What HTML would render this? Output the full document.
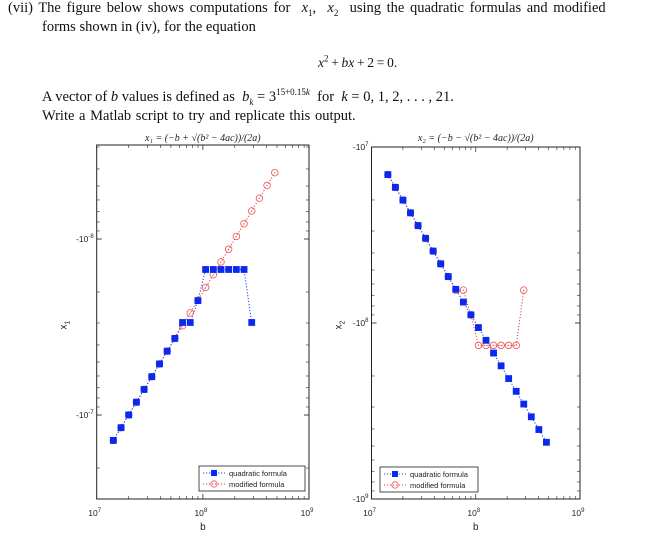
<!DOCTYPE html>
<html><head><meta charset="utf-8">
<style>
body{margin:0;background:#fff;width:648px;height:538px;overflow:hidden;position:relative;font-family:"Liberation Serif",serif;}
.t{position:absolute;font-size:14.5px;color:#111;white-space:nowrap;line-height:17px;}
.t sup,.t sub{line-height:0;}
i{font-style:italic}
svg{position:absolute;left:0;top:0}
</style></head><body>
<div class="t" style="left:8px;top:0px;word-spacing:2px">(vii) The figure below shows computations for &nbsp;<i>x</i><sub style="font-size:9px">1</sub>, &nbsp;<i>x</i><sub style="font-size:9px">2</sub>&nbsp; using the quadratic formulas and modified</div>
<div class="t" style="left:42px;top:19px">forms shown in (iv), for the equation</div>
<div class="t" style="left:318px;top:54px;font-size:13.5px"><i>x</i><sup style="font-size:9px">2</sup>&#8201;+&#8201;<i>bx</i>&#8201;+&#8201;2&#8201;=&#8201;0.</div>
<div class="t" style="left:42px;top:89px">A vector of <i>b</i> values is defined as &nbsp;<i>b<sub style="font-size:9px">k</sub></i> = 3<sup style="font-size:9px">15+0.15<i>k</i></sup>&nbsp; for &nbsp;<i>k</i> = 0, 1, 2, . . . , 21.</div>
<div class="t" style="left:42px;top:108px;word-spacing:1px">Write a Matlab script to try and replicate this output.</div>
<svg id="chart" width="648" height="538"></svg>
<script>
const bVals=[1.435e7,1.695e7,2.003e7,2.366e7,2.796e7,3.303e7,3.903e7,4.611e7,5.448e7,6.437e7,7.605e7,8.985e7,1.0616e8,1.2542e8,1.4818e8,1.7507e8,2.0685e8,2.4438e8,2.8873e8,3.4113e8,4.0304e8,4.7618e8];
const x1Quad=[-1.394e-7,-1.180e-7,-9.985e-8,-8.453e-8,-7.153e-8,-6.055e-8,-5.124e-8,-4.337e-8,-3.671e-8,-2.98e-8,-2.98e-8,-2.24e-8,-1.49e-8,-1.49e-8,-1.49e-8,-1.49e-8,-1.49e-8,-1.49e-8,-2.98e-8];
const x1Mod=[-1.394e-7,-1.180e-7,-9.985e-8,-8.453e-8,-7.153e-8,-6.055e-8,-5.124e-8,-4.337e-8,-3.671e-8,-3.107e-8,-2.630e-8,-2.226e-8,-1.884e-8,-1.595e-8,-1.350e-8,-1.142e-8,-9.669e-9,-8.184e-9,-6.927e-9,-5.863e-9,-4.962e-9,-4.200e-9];
const x2Quad=[-1.435e7,-1.695e7,-2.003e7,-2.366e7,-2.796e7,-3.303e7,-3.903e7,-4.611e7,-5.448e7,-6.437e7,-7.605e7,-8.985e7,-1.0616e8,-1.2542e8,-1.4818e8,-1.7507e8,-2.0685e8,-2.4438e8,-2.8873e8,-3.4113e8,-4.0304e8,-4.7618e8];
const x2Mod=[-1.435e7,-1.695e7,-2.003e7,-2.366e7,-2.796e7,-3.303e7,-3.903e7,-4.611e7,-5.448e7,-6.5e7,-6.5e7,-8.985e7,-1.34e8,-1.34e8,-1.34e8,-1.34e8,-1.34e8,-1.34e8,-6.5e7];
const NS='http://www.w3.org/2000/svg';
const svg=document.getElementById('chart');
function el(tag,attrs,parent,text){const e=document.createElementNS(NS,tag);for(const k in attrs)e.setAttribute(k,attrs[k]);if(text!==undefined)e.textContent=text;(parent||svg).appendChild(e);return e;}
const L=Math.log10;
function plot(cfg){
  const g=el('g',{});
  
  
  const xs=v=>cfg.x0+(L(v)-7)*(cfg.x1-cfg.x0)/2;
  const ys=v=>cfg.ytop+(L(Math.abs(v))-cfg.ylogTop)*(cfg.ybot-cfg.ytop)/(cfg.ylogBot-cfg.ylogTop);
  for(let d=7;d<9;d++)for(let m=1;m<=10;m++){const v=m*Math.pow(10,d);const x=xs(v);const len=(m==1||m==10)?5:3;
    el('line',{x1:x,y1:cfg.ybot,x2:x,y2:cfg.ybot-len,stroke:'#222','stroke-width':0.6},g);
    el('line',{x1:x,y1:cfg.ytop,x2:x,y2:cfg.ytop+len,stroke:'#222','stroke-width':0.6},g);}
  for(let d=Math.floor(cfg.ylogTop);d<Math.ceil(cfg.ylogBot);d++)for(let m=1;m<=10;m++){const lv=L(m*Math.pow(10,d));if(lv<cfg.ylogTop-1e-6||lv>cfg.ylogBot+1e-6)continue;const y=ys(m*Math.pow(10,d));const len=(m==1||m==10)?5:3;
    el('line',{x1:cfg.x0,y1:y,x2:cfg.x0+len,y2:y,stroke:'#222','stroke-width':0.6},g);
    el('line',{x1:cfg.x1,y1:y,x2:cfg.x1-len,y2:y,stroke:'#222','stroke-width':0.6},g);}
  const box=el('rect',{x:cfg.x0,y:cfg.ytop,width:cfg.x1-cfg.x0,height:cfg.ybot-cfg.ytop,fill:'none',stroke:'#222','stroke-width':1},g);
  
  [7,8,9].forEach(d=>{const t=el('text',{x:xs(Math.pow(10,d))-2,y:cfg.ybot+17,'font-family':'Liberation Sans, sans-serif','font-size':8.5,'text-anchor':'middle',fill:'#222'},g);
    
    el('tspan',{},t,'10');el('tspan',{dy:-4,'font-size':6},t,String(d));});
  cfg.yTicks.forEach(d=>{const t=el('text',{x:cfg.x0-3,y:ys(Math.pow(10,d))+3,'font-family':'Liberation Sans, sans-serif','font-size':8.5,'text-anchor':'end',fill:'#222'},g);
    
    el('tspan',{},t,'-10');el('tspan',{dy:-4,'font-size':6},t,String(d));});
  const xl=el('text',{x:(cfg.x0+cfg.x1)/2,y:530,'font-family':'Liberation Sans, sans-serif','font-size':10,'text-anchor':'middle',fill:'#222'},g,'b');
  
  const yl=el('text',{x:0,y:0,transform:`translate(${cfg.x0-30},325) rotate(-90)`,'font-family':'Liberation Sans, sans-serif','font-size':10,'text-anchor':'middle',fill:'#222'},g);
  
  el('tspan',{},yl,'x');el('tspan',{dy:3,'font-size':7},yl,cfg.sub);
  const ti=el('text',{x:(cfg.x0+cfg.x1)/2,y:141,'font-family':'Liberation Serif, serif','font-style':'italic','font-size':10,'text-anchor':'middle',fill:'#222'},g,cfg.title);
  
  const lineOf=(arr,col)=>{const p=arr.map((v,i)=>xs(bVals[i]).toFixed(1)+','+ys(v).toFixed(1)).join(' ');return el('polyline',{points:p,fill:'none',stroke:col,'stroke-width':1,'stroke-dasharray':'1.2,1.8'},g);};
  const lm=lineOf(cfg.mod,'#e8413c');
  const lq=lineOf(cfg.quad,'#1f3cf0');
  cfg.mod.forEach((v,i)=>{const c=el('circle',{cx:xs(bVals[i]),cy:ys(v),r:3.3,fill:'none',stroke:'#ee5050','stroke-width':0.8},g);
    
    el('circle',{cx:xs(bVals[i]),cy:ys(v),r:0.5,fill:'#ee5050'},g);});
  cfg.quad.forEach((v,i)=>{const r=el('rect',{x:xs(bVals[i])-3.4,y:ys(v)-3.4,width:6.8,height:6.8,fill:'#0a28f0'},g);
    });
  const lx=cfg.lx,ly=cfg.ly;
  const lg=el('g',{},g);
  el('rect',{x:lx,y:ly,width:cfg.lw,height:25,fill:'#fff',stroke:'#222','stroke-width':0.8},lg);
  el('line',{x1:lx+4,y1:ly+7,x2:lx+26,y2:ly+7,stroke:'#1f3cf0','stroke-dasharray':'1.2,1.8'},lg);
  el('rect',{x:lx+12,y:ly+4,width:6,height:6,fill:'#0a28f0'},lg);
  el('line',{x1:lx+4,y1:ly+18,x2:lx+26,y2:ly+18,stroke:'#e8413c','stroke-dasharray':'1.2,1.8'},lg);
  el('circle',{cx:lx+15,cy:ly+18,r:3.2,fill:'none',stroke:'#ee5050','stroke-width':0.8},lg);
  const e1=el('text',{x:lx+30,y:ly+10,'font-family':'Liberation Sans, sans-serif','font-size':7.5,fill:'#222'},lg,'quadratic formula');
  
  const e2=el('text',{x:lx+30,y:ly+21,'font-family':'Liberation Sans, sans-serif','font-size':7.5,fill:'#222'},lg,'modified formula');
  
}
plot({name:'x1-chart',x0:96.7,x1:309,ytop:145,ybot:499,ylogTop:-8.534,ylogBot:-6.523,yTicks:[-8,-7],sub:'1',
  title:'x₁ = (−b + √(b² − 4ac))/(2a)',quad:x1Quad,mod:x1Mod,lx:199,ly:466,lw:106});
plot({name:'x2-chart',x0:371.5,x1:580,ytop:147,ybot:499,ylogTop:7,ylogBot:9,yTicks:[7,8,9],sub:'2',
  title:'x₂ = (−b − √(b² − 4ac))/(2a)',quad:x2Quad,mod:x2Mod,lx:380,ly:467,lw:98});
</script>
</body></html>
